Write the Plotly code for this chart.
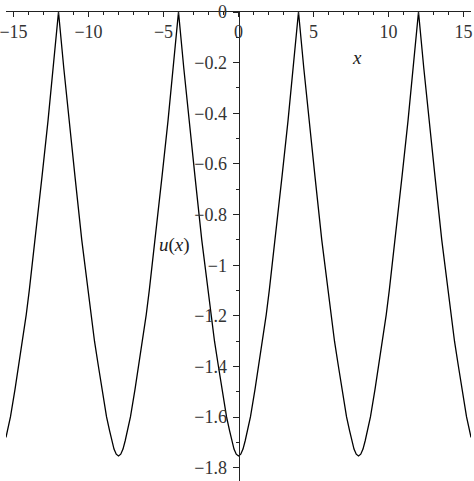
import plotly.graph_objects as go

# u(x), left to right (one line per half wave)
x_vals = [-15.5, -15.4, -15.2, -14.9, -14.65, -14.4, -14.15, -13.95, -13.55, -13.1, -12.7, -12.35, -12.0,
          -11.65, -11.3, -10.9, -10.45, -10.05, -9.85, -9.6, -9.35, -9.1, -8.8, -8.6, -8.45, -8.3, -8.15, -8.0,
          -7.85, -7.7, -7.55, -7.4, -7.2, -6.9, -6.65, -6.4, -6.15, -5.95, -5.55, -5.1, -4.7, -4.35, -4.0,
          -3.65, -3.3, -2.9, -2.45, -2.05, -1.85, -1.6, -1.35, -1.1, -0.8, -0.6, -0.45, -0.3, -0.15, 0.0,
          0.15, 0.3, 0.45, 0.6, 0.8, 1.1, 1.35, 1.6, 1.85, 2.05, 2.45, 2.9, 3.3, 3.65, 4.0,
          4.35, 4.7, 5.1, 5.55, 5.95, 6.15, 6.4, 6.65, 6.9, 7.2, 7.4, 7.55, 7.7, 7.85, 8.0,
          8.15, 8.3, 8.45, 8.6, 8.8, 9.1, 9.35, 9.6, 9.85, 10.05, 10.45, 10.9, 11.3, 11.65, 12.0,
          12.35, 12.7, 13.1, 13.55, 13.95, 14.15, 14.4, 14.65, 14.9, 15.2, 15.4, 15.5]
u_vals = [-1.68, -1.652, -1.598, -1.49, -1.395, -1.30, -1.195, -1.10, -0.90, -0.65, -0.43, -0.22, 0.0,
          -0.22, -0.43, -0.65, -0.90, -1.10, -1.195, -1.30, -1.395, -1.49, -1.598, -1.652, -1.692, -1.726, -1.746, -1.753,
          -1.746, -1.726, -1.692, -1.652, -1.598, -1.49, -1.395, -1.30, -1.195, -1.10, -0.90, -0.65, -0.43, -0.22, 0.0,
          -0.22, -0.43, -0.65, -0.90, -1.10, -1.195, -1.30, -1.395, -1.49, -1.598, -1.652, -1.692, -1.726, -1.746, -1.753,
          -1.746, -1.726, -1.692, -1.652, -1.598, -1.49, -1.395, -1.30, -1.195, -1.10, -0.90, -0.65, -0.43, -0.22, 0.0,
          -0.22, -0.43, -0.65, -0.90, -1.10, -1.195, -1.30, -1.395, -1.49, -1.598, -1.652, -1.692, -1.726, -1.746, -1.753,
          -1.746, -1.726, -1.692, -1.652, -1.598, -1.49, -1.395, -1.30, -1.195, -1.10, -0.90, -0.65, -0.43, -0.22, 0.0,
          -0.22, -0.43, -0.65, -0.90, -1.10, -1.195, -1.30, -1.395, -1.49, -1.598, -1.652, -1.68]

x_ticks = [-15, -10, -5, 0, 5, 10, 15]
y_ticks = [0, -0.2, -0.4, -0.6, -0.8, -1, -1.2, -1.4, -1.6, -1.8]
y_tick_text = ['0', '−0.2', '−0.4', '−0.6', '−0.8', '−1', '−1.2', '−1.4', '−1.6', '−1.8']

fig = go.Figure()
fig.add_trace(go.Scatter(x=x_vals, y=u_vals, mode='lines',
                         line=dict(color='black', width=1.3), hoverinfo='skip'))

tick_font = dict(family='Liberation Serif', size=18, color='#333333')

fig.update_layout(
    width=474, height=481,
    margin=dict(l=6, r=3, t=12, b=0, autoexpand=False),
    paper_bgcolor='white', plot_bgcolor='white',
    showlegend=False,
    xaxis=dict(
        range=[-15.5, 15.5], side='top', anchor='y',
        showgrid=False, zeroline=False,
        showline=True, linecolor='#222222', linewidth=1,
        tickvals=x_ticks, ticks='inside', ticklen=5, tickcolor='#222222',
        ticklabelposition='inside', ticklabeloverflow='allow', ticklabelstandoff=9,
        tickfont=tick_font,
        minor=dict(dtick=1, ticks='inside', ticklen=3, tickcolor='#222222'),
    ),
    yaxis=dict(
        range=[-1.852, 0], anchor='free', position=0.5, side='left',
        showgrid=False, zeroline=False,
        showline=True, linecolor='#222222', linewidth=1,
        tickvals=y_ticks, ticktext=y_tick_text, ticklabeloverflow='allow',
        ticks='outside', ticklen=6, tickcolor='#222222', tickfont=tick_font,
        ticklabelstandoff=2,
        minor=dict(dtick=0.1, ticks='outside', ticklen=3, tickcolor='#222222'),
    ),
    annotations=[
        dict(x=7.93, y=-0.178, xref='x', yref='y', text='<i>x</i>', showarrow=False,
             font=dict(family='Liberation Serif', size=19, color='#222222')),
        dict(x=-4.27, y=-0.92, xref='x', yref='y', text='<i>u</i>(<i>x</i>)', showarrow=False,
             font=dict(family='Liberation Serif', size=19, color='#222222')),
    ],
)

# drop the default page margin so the figure sits at the window's corner
fig.write_html("out.html", config={'displayModeBar': False},
               post_script="document.body.style.margin='0';")
